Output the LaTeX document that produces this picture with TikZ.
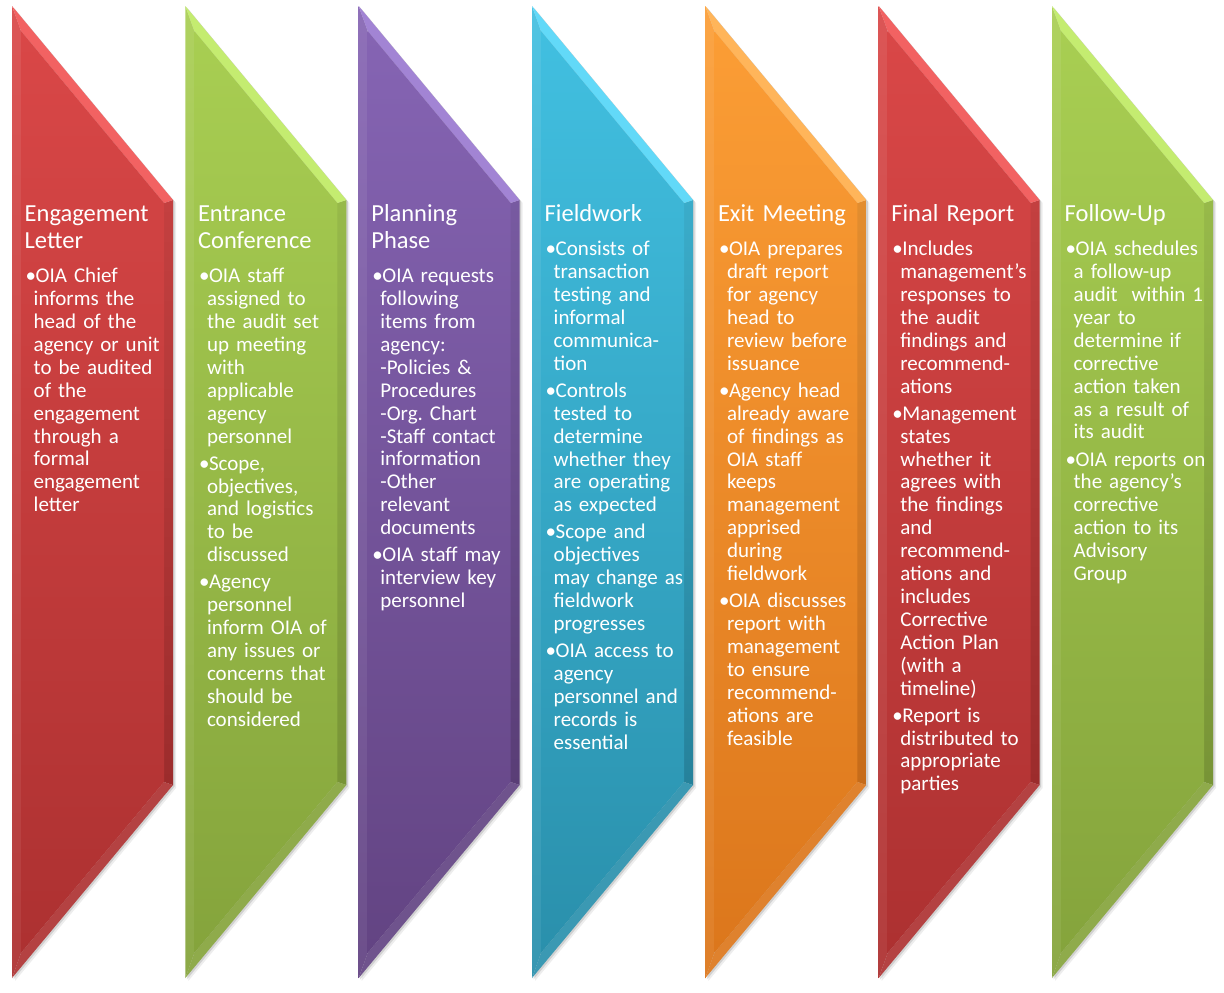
\documentclass[tikz,border=0pt]{standalone}
\usepackage{fontspec}
\setmainfont{Carlito}
\definecolor{redA}{HTML}{D94747}
\definecolor{redB}{HTML}{AD3131}
\definecolor{redH}{HTML}{F26262}
\definecolor{grnA}{HTML}{A8CE52}
\definecolor{grnB}{HTML}{85A43C}
\definecolor{grnH}{HTML}{C4EC70}
\definecolor{purA}{HTML}{8564B3}
\definecolor{purB}{HTML}{634483}
\definecolor{purH}{HTML}{A284D4}
\definecolor{cynA}{HTML}{41BFE0}
\definecolor{cynB}{HTML}{2A90AC}
\definecolor{cynH}{HTML}{62D9F8}
\definecolor{orgA}{HTML}{FB9D35}
\definecolor{orgB}{HTML}{DC771C}
\definecolor{orgH}{HTML}{FFB55A}
\newlength\bw \setlength\bw{10pt}
\newcommand\fb{\noindent\hangindent=8pt\hangafter=1\rule{0pt}{16.5pt}\makebox[\bw][l]{•}}
\newcommand\nb{\par\vspace{4.2pt}\fb}
\newcommand\nl{\newline}
% chevron: #1 left x, #2 top colour, #3 bottom colour, #4 highlight
\newcommand\chev[4]{%
  \fill[black,opacity=0.07] ({#1+3},9) -- ({#1+164},203) -- ({#1+164},788) -- ({#1+3},981) -- cycle;
  \fill[black,opacity=0.12] ({#1+1.5},7.5) -- ({#1+162.5},201.5) -- ({#1+162.5},786.5) -- ({#1+1.5},979.5) -- cycle;
  % left strip
  \shade[top color=#2!92!white, bottom color=#3!94!white]
    (#1,6) -- ({#1+9},31) -- ({#1+9},953) -- (#1,978) -- cycle;
  % right strip
  \shade[top color=#2!90!black, bottom color=#3!90!black]
    ({#1+161},200) -- ({#1+161},785) -- ({#1+152},782) -- ({#1+152},203) -- cycle;
  % bottom strip
  \fill[#3!92!white] (#1,978) -- ({#1+161},785) -- ({#1+152},782) -- ({#1+9},953) -- cycle;
  % top strip
  \fill[#4] (#1,6) -- ({#1+161},200) -- ({#1+152},203) -- ({#1+9},31) -- cycle;
  % face
  \shade[top color=#2, bottom color=#3]
    ({#1+9},31) -- ({#1+152},203) -- ({#1+152},782) -- ({#1+9},953) -- cycle;
}
\tikzset{
  ttl/.style={anchor=north west, inner sep=0pt, text=white, align=left, text width=200pt,
    font=\fontsize{24.5}{27}\selectfont},
  bdy/.style={anchor=north west, inner sep=0pt, text=white, align=left, text width=200pt,
    font=\fontsize{21}{22.9}\selectfont},
}
\begin{document}
\begin{tikzpicture}[x=1pt,y=-1pt]
\fill[white] (0,0) rectangle (1224,993);
\useasboundingbox (0,0) rectangle (1224,993);
\chev{12}{redA}{redB}{redH}
\chev{185.33}{grnA}{grnB}{grnH}
\chev{358.67}{purA}{purB}{purH}
\chev{532}{cynA}{cynB}{cynH}
\chev{705.33}{orgA}{orgB}{orgH}
\chev{878.67}{redA}{redB}{redH}
\chev{1052}{grnA}{grnB}{grnH}

% column 1
\node[ttl] (t1) at (24.5,201) {\rule{0pt}{20pt}Engagement\nl Letter};
\node[bdy] (b1) at (25.5,266) {\fb OIA Chief\nl informs the\nl head of the\nl agency or unit\nl to be audited\nl of the\nl engagement\nl through a\nl formal\nl engagement\nl letter\par};

% column 2
\node[ttl] (t2) at (197.83,201) {\rule{0pt}{20pt}Entrance\nl Conference};
\node[bdy] (b2) at (198.83,266) {\fb OIA staff\nl assigned to\nl the audit set\nl up meeting\nl with\nl applicable\nl agency\nl personnel
\nb Scope,\nl objectives,\nl and logistics\nl to be\nl discussed
\nb Agency\nl personnel\nl inform OIA of\nl any issues or\nl concerns that\nl should be\nl considered\par};

% column 3
\node[ttl] (t3) at (371.17,201) {\rule{0pt}{20pt}Planning\nl Phase};
\node[bdy] (b3) at (372.17,266) {\fb OIA requests\nl following\nl items from\nl agency:\nl -Policies \&\nl Procedures\nl -Org.\ Chart\nl -Staff contact\nl information\nl -Other\nl relevant\nl documents
\nb OIA staff may\nl interview key\nl personnel\par};

% column 4
\node[ttl] (t4) at (544.5,201) {\rule{0pt}{20pt}Fieldwork};
\node[bdy] (b4) at (545.5,239) {\fb Consists of\nl transaction\nl testing and\nl informal\nl communica-\nl tion
\nb Controls\nl tested to\nl determine\nl whether they\nl are operating\nl as expected
\nb Scope and\nl objectives\nl may change as\nl fieldwork\nl progresses
\nb OIA access to\nl agency\nl personnel and\nl records is\nl essential\par};

% column 5
\node[ttl] (t5) at (717.83,201) {\rule{0pt}{20pt}Exit Meeting};
\node[bdy] (b5) at (718.83,239) {\fb OIA prepares\nl draft report\nl for agency\nl head to\nl review before\nl issuance
\nb Agency head\nl already aware\nl of findings as\nl OIA staff\nl keeps\nl management\nl apprised\nl during\nl fieldwork
\nb OIA discusses\nl report with\nl management\nl to ensure\nl recommend-\nl ations are\nl feasible\par};

% column 6
\node[ttl] (t6) at (891.17,201) {\rule{0pt}{20pt}Final Report};
\node[bdy] (b6) at (892.17,239) {\fb Includes\nl management’s\nl responses to\nl the audit\nl findings and\nl recommend-\nl ations
\nb Management\nl states\nl whether it\nl agrees with\nl the findings\nl and\nl recommend-\nl ations and\nl includes\nl Corrective\nl Action Plan\nl (with a\nl timeline)
\nb Report is\nl distributed to\nl appropriate\nl parties\par};

% column 7
\node[ttl] (t7) at (1064.5,201) {\rule{0pt}{20pt}Follow-Up};
\node[bdy] (b7) at (1065.5,239) {\fb OIA schedules\nl a follow-up\nl audit\ \ within 1\nl year to\nl determine if\nl corrective\nl action taken\nl as a result of\nl its audit
\nb OIA reports on\nl the agency’s\nl corrective\nl action to its\nl Advisory\nl Group\par};
\end{tikzpicture}
\end{document}
